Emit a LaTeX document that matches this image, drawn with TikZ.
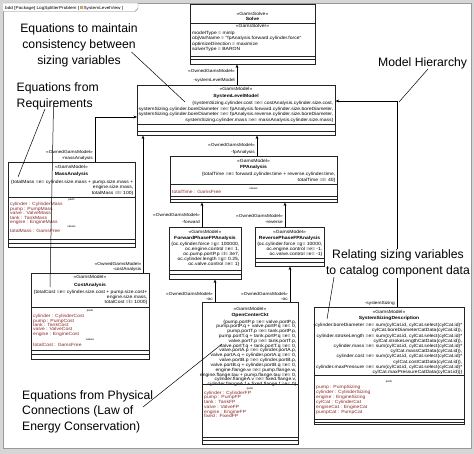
\documentclass[tikz,border=0pt]{standalone}
\usepackage{fontspec}
\setmainfont{Liberation Sans}
\newfontfamily\bxf[FakeStretch=1.12]{Liberation Sans}
\usetikzlibrary{arrows.meta}
\definecolor{partred}{RGB}{135,40,40}
\definecolor{bggray}{RGB}{214,214,214}
\definecolor{linec}{RGB}{35,35,35}
\definecolor{iconc}{RGB}{190,170,110}
\newcommand\bfs[1]{\bxf\fontsize{4.5}{#1}\selectfont\lineskiplimit=-10pt}
\tikzset{
 umlbox/.style={draw=linec, line width=0.55pt, fill=white, inner sep=0pt, anchor=north west},
 cline/.style={draw=linec, line width=0.5pt},
 ster/.style={inner sep=0pt, anchor=base, font=\bfs{5}},
 nm/.style={inner sep=0pt, anchor=base, font=\bfs{5}\bfseries},
 cons/.style={inner sep=0pt, anchor=base east, align=right, font=\bfs{#1}},
 cons/.default=5.3,
 attr/.style={inner sep=0pt, anchor=base west, align=left, font=\bfs{#1}},
 attr/.default=5.3,
 prt/.style={inner sep=0pt, anchor=base west, align=left, text=partred, font=\bfs{#1}},
 prt/.default=4.4,
 cmp/.style={inner sep=0pt, anchor=base, font=\fontsize{2.8}{3}\selectfont},
 owns/.style={draw=black, line width=0.5pt, -{Stealth[length=3.5pt,width=2.8pt]}},
 lbl/.style={inner sep=0pt, anchor=base east, font=\bxf\fontsize{4.3}{5}\selectfont},
 anno/.style={inner sep=0pt, font=\fontsize{12.2}{15.8}\selectfont},
 leader/.style={draw=black, line width=0.5pt},
}
\begin{document}
\begin{tikzpicture}[x=1pt,y=-1pt]
\fill[bggray] (0,0) rectangle (474,454);
\useasboundingbox (0,0) rectangle (474,454);
\draw[black!40, fill=white, line width=0.5pt] (3,3) rectangle (471,448);
\draw[black!50, fill=white, line width=0.4pt] (3,3) -- (138,3) -- (138,8.5) -- (135,11.5) -- (3,11.5);
\node[inner sep=0pt, anchor=base west, font=\bxf\fontsize{4.2}{5}\selectfont] (tab) at (5,9.3) {bdd [Package] LogSplitterProblem [\,\textcolor{iconc}{\rule{3pt}{3.2pt}}\,SystemLevelView ]};

% annotations (base anchor = last line)
\node[anno, align=center, anchor=base] (n1) at (79,64.1) {Equations to maintain\\consistency between\\sizing variables};
\node[anno, align=left, anchor=base west] (n2) at (16.5,107.3) {Equations from\\Requirements};
\node[anno, anchor=base west] (n3) at (378,67) {Model Hierarchy};
\node[anno, align=left, anchor=base west] (n5) at (22,430.6) {Equations from Physical\\Connections (Law of\\Energy Conservation)};

% boxes
\node[umlbox, minimum width=125pt, minimum height=60pt] (solve) at (190,4) {};
\node[umlbox, minimum width=198pt, minimum height=50pt] (slm) at (137,85) {};
\node[umlbox, minimum width=127pt, minimum height=85pt] (mass) at (8,162) {};
\node[umlbox, minimum width=118pt, minimum height=86pt] (cost) at (31,273) {};
\node[umlbox, minimum width=167pt, minimum height=46pt] (fp) at (170,156) {};
\node[umlbox, minimum width=72pt, minimum height=52pt] (fwd) at (169,227) {};
\node[umlbox, minimum width=69pt, minimum height=39pt] (rev) at (255,227) {};
\node[umlbox, minimum width=96pt, minimum height=142pt] (occ) at (202,302) {};
\node[umlbox, minimum width=150pt, minimum height=117pt] (ssd) at (314,307) {};

% Solve
\node[ster] (solveS) at (252.5,15.5) {«GamsSolve»};
\node[nm] (solveN) at (252.5,20.8) {Solve};
\draw[cline] (190,22.8) -- (315,22.8);
\node[ster] (solveS2) at (252.5,28) {«GamsSolver»};
\node[attr] (solveA) at (192,50.4) {modelType = minlp\\objVarName = "fpAnalysis.forward.cylinder.force"\\optimizeDirection = maximize\\solverType = BARON};
\draw[cline] (190,56) -- (315,56);
\draw[cline] (190,59.5) -- (315,59.5);

% SystemLevelModel
\node[ster] (slmS) at (236,90.3) {«GamsModel»};
\node[nm] (slmN) at (236,97.2) {SystemLevelModel};
\node[cons=5.6] (slmC) at (333.5,121.4) {\{systemSizing.cylinder.cost =e= costAnalysis.cylinder.size.cost,\\systemSizing.cylinder.boreDiameter =e= fpAnalysis.forward.cylinder.size.boreDiameter,\\systemSizing.cylinder.boreDiameter =e= fpAnalysis.reverse.cylinder.size.boreDiameter,\\systemSizing.cylinder.mass =e= massAnalysis.cylinder.size.mass\}};
\draw[cline] (137,124.5) -- (335,124.5);
\draw[cline] (137,131.5) -- (335,131.5);

% MassAnalysis
\node[ster] (massS) at (71.5,168.5) {«GamsModel»};
\node[nm] (massN) at (71.5,175.5) {MassAnalysis};
\node[cons=5.5] (massC) at (133.5,194.5) {\{totalMass =e= cylinder.size.mass + pump.size.mass +\\engine.size.mass,\\totalMass =l= 100\}};
\draw[cline] (8,197) -- (135,197);
\node[cmp] (massP) at (71.5,200.8) {parts};
\node[prt=4.35] (massPL) at (10,223.4) {cylinder : CylinderMass\\pump : PumpMass\\valve : ValveMass\\tank : TankMass\\engine : EngineMass};
\node[cmp] (massV) at (71.5,227.5) {values};
\node[prt] (massVL) at (10,232.5) {totalMass : GamsFree};
\draw[cline] (8,239) -- (135,239);
\draw[cline] (8,243) -- (135,243);

% CostAnalysis
\node[ster] (costS) at (90,279) {«GamsModel»};
\node[nm] (costN) at (90,286.5) {CostAnalysis};
\node[cons=4.8] (costC) at (147.5,303.6) {\{totalCost =e= cylinder.size.cost + pump.size.cost+\\engine.size.mass,\\totalCost =l= 1000\}};
\draw[cline] (31,307) -- (149,307);
\node[cmp] (costP) at (90,311.5) {parts};
\node[prt=4.3] (costPL) at (33,335.2) {cylinder : CylinderCost\\pump : PumpCost\\tank : TankCost\\valve : ValveCost\\engine : EngineCost};
\node[cmp] (costV) at (90,340.5) {values};
\node[prt] (costVL) at (33,346) {totalCost : GamsFree};
\draw[cline] (31,350) -- (149,350);
\draw[cline] (31,354) -- (149,354);

% FPAnalysis
\node[ster] (fpS) at (253.5,162.5) {«GamsModel»};
\node[nm] (fpN) at (253.5,168.5) {FPAnalysis};
\node[cons=6] (fpC) at (335.5,181.5) {\{totalTime =e= forward.cylinder.time + reverse.cylinder.time,\\totalTime =l= 40\}};
\draw[cline] (170,184) -- (337,184);
\node[cmp] (fpV) at (253.5,189.3) {values};
\node[prt] (fpVL) at (172,193.8) {totalTime : GamsFree};
\draw[cline] (170,196.5) -- (337,196.5);
\draw[cline] (170,199.3) -- (337,199.3);

% ForwardPhaseFPAnalysis
\node[ster] (fwdS) at (205,233.5) {«GamsModel»};
\node[nm] (fwdN) at (205,239.5) {ForwardPhaseFPAnalysis};
\node[cons=5] (fwdC) at (239.5,265.5) {\{oc.cylinder.force =g= 100000,\\oc.engine.control =e= 1,\\oc.pump.portP.p =l= 3e7,\\oc.cylinder.length =g= 0.25,\\oc.valve.control =e= 1\}};
\draw[cline] (169,270) -- (241,270);
\draw[cline] (169,274) -- (241,274);

% ReversePhaseFPAnalysis
\node[ster] (revS) at (289.5,233.5) {«GamsModel»};
\node[nm] (revN) at (289.5,239.5) {ReversePhaseFPAnalysis};
\node[cons=5] (revC) at (322.5,255.5) {\{oc.cylinder.force =g= 10000,\\oc.engine.control =e= -1,\\oc.valve.control =e= -1\}};
\draw[cline] (255,258) -- (324,258);
\draw[cline] (255,262) -- (324,262);

% OpenCenterCkt
\node[ster] (occS) at (250,310.5) {«GamsModel»};
\node[nm] (occN) at (250,316.5) {OpenCenterCkt};
\node[cons=4.8] (occC) at (296.5,385.6) {\{pump.portP.p =e= valve.portP.p,\\pump.portP.q + valve.portP.q =e= 0,\\pump.portT.p =e= tank.portP.p,\\pump.portT.q + tank.portP.q =e= 0,\\valve.portT.p =e= tank.portT.p,\\valve.portT.q + tank.portT.q =e= 0,\\valve.portA.p =e= cylinder.portA.p,\\valve.portA.q + cylinder.portA.q =e= 0,\\valve.portB.p =e= cylinder.portB.p,\\valve.portB.q + cylinder.portB.q =e= 0,\\engine.flange.w =e= pump.flange.w,\\engine.flange.tau + pump.flange.tau =e= 0,\\cylinder.flangeA.v =e= fixed.flange.v,\\cylinder.flangeA.f + fixed.flange.f =e= 0\}};
\draw[cline] (202,384.5) -- (298,384.5);
\node[cmp] (occP) at (250,389) {parts};
\node[prt=4.7] (occPL) at (204,417.7) {cylinder : CylinderFP\\pump : PumpFP\\tank : TankFP\\valve : ValveFP\\engine : EngineFP\\fixed : FixedFP};
\draw[cline] (202,437) -- (298,437);
\draw[cline] (202,440.5) -- (298,440.5);

% SystemSizingDescription
\node[ster] (ssdS) at (389,313.5) {«GamsModel»};
\node[nm] (ssdN) at (389,319.5) {SystemSizingDescription};
\node[cons=5.25] (ssdC) at (462.5,373.75) {\{cylinder.boreDiameter =e= sum(cylCat.id, cylCat.select(cylCat.id)*\\cylCat.boreDiameterCatData(cylCat.id)),\\cylinder.strokeLength =e= sum(cylCat.id, cylCat.select(cylCat.id)*\\cylCat.strokeLengthCatData(cylCat.id)),\\cylinder.mass =e= sum(cylCat.id, cylCat.select(cylCat.id)*\\cylCat.massCatData(cylCat.id)),\\cylinder.cost =e= sum(cylCat.id, cylCat.select(cylCat.id)*\\cylCat.costCatData(cylCat.id)),\\cylinder.maxPressure =e= sum(cylCat.id, cylCat.select(cylCat.id)*\\cylCat.maxPressureCatData(cylCat.id))\}};
\draw[cline] (314,375.5) -- (464,375.5);
\node[cmp] (ssdP) at (389,382) {parts};
\node[prt=4.9] (ssdPL) at (316,413.3) {pump : PumpSizing\\cylinder : CylinderSizing\\engine : EngineSizing\\cylCat : CylinderCat\\engineCat : EngineCat\\pumpCat : PumpCat};
\draw[cline] (314,419.5) -- (464,419.5);
\draw[cline] (314,422) -- (464,422);

% connectors
\coordinate (k1) at (237,0);
\coordinate (k2) at (95,117);
\coordinate (k3) at (397,101);
\coordinate (k4) at (143,0);
\coordinate (k5) at (257,0);
\coordinate (k6) at (202,0);
\coordinate (k7) at (285,0);
\coordinate (k8) at (215,0);
\coordinate (k9) at (290,0);
\draw[owns] (slm.north -| k1) -- (solve.south -| k1);
\draw[owns] (mass.north -| k2) -- (k2) -- (slm.west |- k2);
\draw[owns] (ssd.north -| k3) -- (k3) -- (slm.east |- k3);
\draw[owns] (cost.north -| k4) -- (slm.south -| k4);
\draw[owns] (fp.north -| k5) -- (slm.south -| k5);
\draw[owns] (fwd.north -| k6) -- (fp.south -| k6);
\draw[owns] (rev.north -| k7) -- (fp.south -| k7);
\draw[owns] (occ.north -| k8) -- (fwd.south -| k8);
\draw[owns] (occ.north -| k9) -- (rev.south -| k9);

\node[lbl] (l1a) at (235,73) {«OwnedGamsModel»};
\node[lbl] (l1b) at (235,81.5) {-systemLevelModel};
\node[lbl] (l2a) at (93,153.5) {«OwnedGamsModel»};
\node[lbl] (l2b) at (93,159.5) {-massAnalysis};
\node[lbl] (l4a) at (141.5,265.5) {«OwnedGamsModel»};
\node[lbl] (l4b) at (141.5,270.5) {-costAnalysis};
\node[lbl] (l5a) at (255,146.5) {«OwnedGamsModel»};
\node[lbl] (l5b) at (255,153.5) {-fpAnalysis};
\node[lbl] (l6a) at (200,216.5) {«OwnedGamsModel»};
\node[lbl] (l6b) at (200,223.5) {-forward};
\node[lbl] (l7a) at (283,217.5) {«OwnedGamsModel»};
\node[lbl] (l7b) at (283,223.5) {-reverse};
\node[lbl] (l8a) at (213,295.5) {«OwnedGamsModel»};
\node[lbl] (l8b) at (213,301) {-oc};
\node[lbl] (l9a) at (288,295.5) {«OwnedGamsModel»};
\node[lbl] (l9b) at (288,301) {-oc};
\node[lbl] (l3b) at (395,305) {-systemSizing};

% annotation with white backing
\node[anno, fill=white, inner sep=1pt, align=center, anchor=base] (n4) at (398,274.3) {Relating sizing variables\\to catalog component data};

% leaders
\coordinate (a1) at (131.5,52); \coordinate (b1) at (185,102);
\coordinate (a2) at (45,109); \coordinate (b2) at (18,177);
\coordinate (a3) at (53.5,106); \coordinate (b3) at (50,287);
\coordinate (a4) at (428,69); \coordinate (b4) at (399,102);
\coordinate (a5) at (334,277); \coordinate (b5) at (327,319);
\coordinate (a6) at (143,407); \coordinate (b6) at (222,344);
\draw[leader] (a1) -- (b1);
\draw[leader] (a2) -- (b2);
\draw[leader] (a3) -- (b3);
\draw[leader] (a4) -- (b4);
\draw[leader] (a5) -- (b5);
\draw[leader] (a6) -- (b6);
\end{tikzpicture}
\end{document}
